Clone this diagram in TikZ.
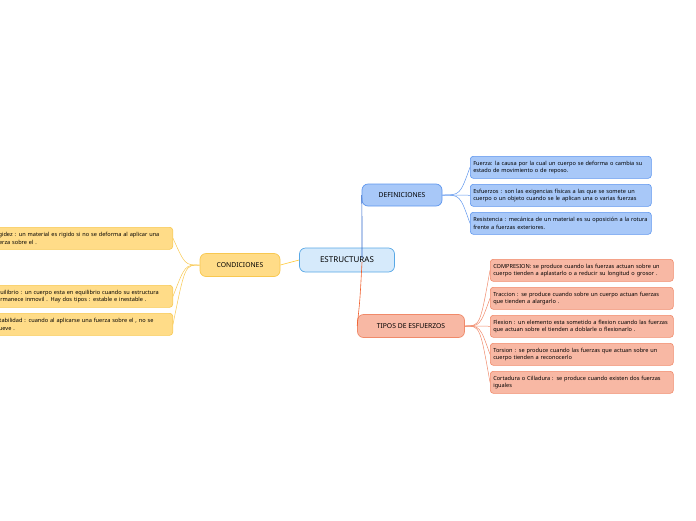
\documentclass[tikz,border=0pt]{standalone}
\usepackage{fontspec}
\setmainfont{Noto Sans}
\newcommand\nohyph{\hyphenpenalty10000 \exhyphenpenalty10000 }
\definecolor{bfill}{HTML}{A8C8F8}\definecolor{bdraw}{HTML}{5E96EE}
\definecolor{sfill}{HTML}{F8B8A4}\definecolor{sdraw}{HTML}{F08A6A}
\definecolor{yfill}{HTML}{FFDC88}\definecolor{ydraw}{HTML}{F8C850}
\definecolor{rfill}{HTML}{D6EAFB}\definecolor{rdraw}{HTML}{58A8E6}
\definecolor{bline}{HTML}{2A62C8}\definecolor{sline}{HTML}{F0602E}\definecolor{yline}{HTML}{FFC832}
\begin{document}
\begin{tikzpicture}[x=1pt,y=-1pt,
 leaf/.style={rounded corners=3pt,line width=0.6pt,anchor=north west,inner xsep=3pt,inner ysep=2pt,align=left,font=\fontsize{5.6}{7.4}\selectfont\nohyph,minimum height=22pt},
 bl/.style={leaf,draw=bdraw,fill=bfill,text width=175pt},
 sl/.style={leaf,draw=sdraw,fill=sfill,text width=177pt},
 yl/.style={leaf,draw=ydraw,fill=yfill,text width=176pt},
 mid/.style={rounded corners=6pt,line width=0.7pt,font=\fontsize{6.8}{8}\selectfont,minimum height=22pt,text=black},
 bc/.style={draw=bline,line width=0.6pt},
 sc/.style={draw=sline,line width=0.6pt},
 yc/.style={draw=yline,line width=0.6pt}]
\useasboundingbox (0,0) rectangle (696,520);
\node[mid,draw=rdraw,fill=rfill,minimum width=95pt,minimum height=24pt,font=\fontsize{8}{9}\selectfont\bfseries] (root) at (347,260) {ESTRUCTURAS};
\node[mid,draw=bdraw,fill=bfill,minimum width=80pt] (def) at (402,195) {DEFINICIONES};
\node[mid,draw=sdraw,fill=sfill,minimum width=107pt,minimum height=23pt] (tip) at (411,326) {TIPOS DE ESFUERZOS};
\node[mid,draw=ydraw,fill=yfill,minimum width=80pt,minimum height=23pt] (con) at (240,265) {CONDICIONES};
\coordinate (rj) at (362,258);
\coordinate (rk) at (362,262);
\draw[bc] (rj) .. controls (362,215) .. (def.west);
\draw[sc] (rk) .. controls (360,300) .. (tip.west);
\draw[yc] (root.west) .. controls (290,262) .. (con.east);
\node[bl] (b1) at (470,156) {Fuerza: la causa por la cual un cuerpo se deforma o cambia su estado de movimiento o de reposo.};
\node[bl] (b2) at (470,184) {Esfuerzos : son las exigencias físicas a las que se somete un cuerpo o un objeto cuando se le aplican una o varias fuerzas};
\node[bl] (b3) at (470,212) {Resistencia : mecánica de un material es su oposición a la rotura frente a fuerzas exteriores.};
\foreach \n in {b1,b2,b3} \draw[draw=bdraw,line width=0.5pt] (def.east) .. controls (460,195) .. (\n.west);
\node[sl] (s1) at (490,259) {COMPRESION: se produce cuando las fuerzas actuan sobre un cuerpo tienden a aplastarlo o a reducir su longitud o grosor .};
\node[sl] (s2) at (490,287) {Traccion : se produce cuando sobre un cuerpo actuan fuerzas que tienden a alargarlo .};
\node[sl] (s3) at (490,315) {Flexion : un elemento esta sometido a flexion cuando las fuerzas que actuan sobre el tienden a doblarle o flexionarlo .};
\node[sl] (s4) at (490,343) {Torsion : se produce cuando las fuerzas que actuan sobre un cuerpo tienden a reconocerlo};
\node[sl] (s5) at (490,371) {Cortadura o Cilladura : se produce cuando existen dos fuerzas iguales};
\foreach \n in {s1,s2,s3,s4,s5} \draw[draw=sdraw,line width=0.5pt] (tip.east) .. controls (480,326) .. (\n.west);
\node[yl,anchor=north east] (y1) at (173,227) {Rigidez : un material es rigido si no se deforma al aplicar una fuerza sobre el .};
\node[yl,anchor=north east] (y2) at (173,285) {Equilibrio : un cuerpo esta en equilibrio cuando su estructura permanece inmovil . Hay dos tipos : estable e inestable .};
\node[yl,anchor=north east] (y3) at (173,313) {Estabilidad : cuando al aplicarse una fuerza sobre el , no se mueve .};
\foreach \n in {y1,y2,y3} \draw[draw=ydraw,line width=0.5pt] (con.west) .. controls (185,265) .. (\n.east);
\end{tikzpicture}
\end{document}
